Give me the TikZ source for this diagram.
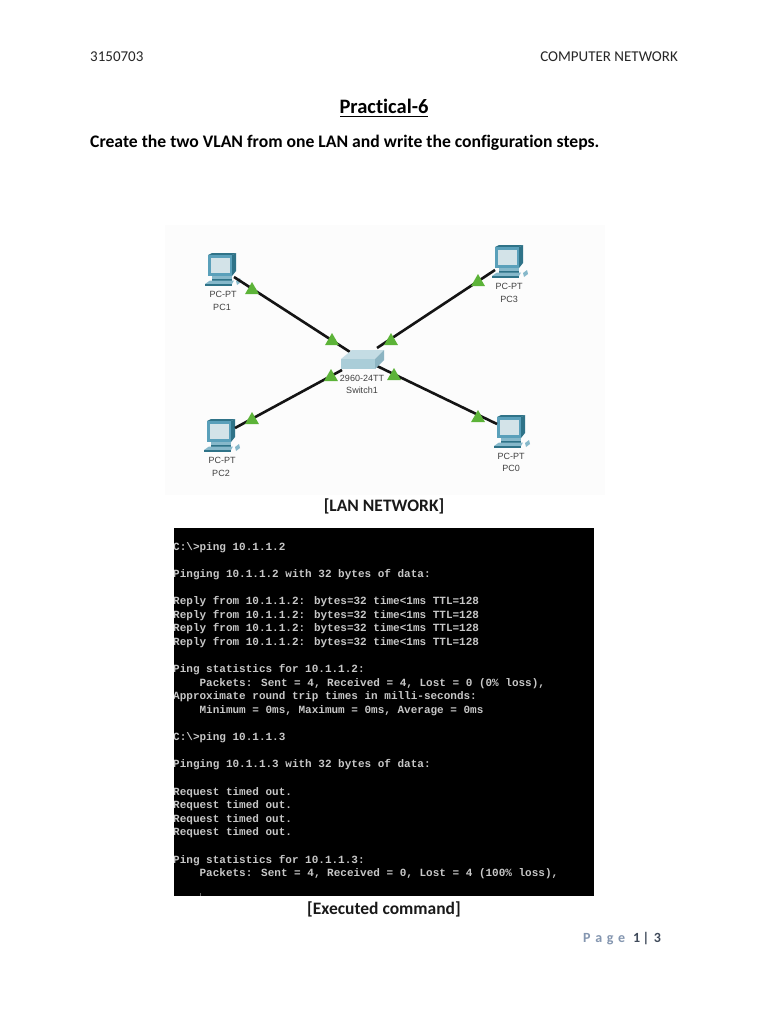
\documentclass[tikz,border=0pt]{standalone}
\usepackage{fontspec}
\setmainfont[Ligatures=NoCommon]{Carlito}
\newfontfamily\pkfont{Liberation Sans}
\newfontfamily\termfont{Liberation Mono}
\usetikzlibrary{shapes.geometric}
\definecolor{pcfront}{HTML}{5AA0BA}
\definecolor{pcside}{HTML}{2F7388}
\definecolor{pcscreen}{HTML}{D3E3E8}
\definecolor{pcbase}{HTML}{86B8CA}
\definecolor{linkgreen}{HTML}{5CB338}
\definecolor{pagegrey}{HTML}{8496B0}
\definecolor{pagedark}{HTML}{3F4A5A}
\definecolor{swtop}{HTML}{C4DCE4}
\definecolor{swfront}{HTML}{AACDD8}
\definecolor{swside}{HTML}{8CB4C2}
\tikzset{
  x=1pt,y=-1pt,
  hdr/.style={inner sep=0pt,font=\fontsize{15}{15}\selectfont,text=black!85},
  capt/.style={inner sep=0pt,font=\bfseries\fontsize{17.5}{17.5}\selectfont,text=black!90},
  pklabel/.style={inner sep=0pt,font=\pkfont\fontsize{9}{9}\selectfont,text=black!75},
  term/.style={inner sep=0pt,anchor=base west,font=\termfont\bfseries\fontsize{11}{11}\selectfont,text=black!22},
  wire/.style={line width=2.6pt,draw=black!92},
  linkup/.style={regular polygon,regular polygon sides=3,fill=linkgreen,inner sep=0pt,minimum size=16pt},
  pc/.pic={
    \fill[pcside] (24,0) -- (28,-2) -- (28,16) -- (24,21) -- cycle;
    \fill[pcside] (0,0) -- (4,-2) -- (28,-2) -- (24,0) -- cycle;
    \fill[pcfront] (0,0) rectangle (24,21);
    \fill[pcscreen] (2.5,2.5) rectangle (22,18);
    \fill[pcbase] (4,21) rectangle (24,24);
    \fill[pcside] (4,24) rectangle (24,25.5);
    \fill[pcbase] (2,25.5) -- (26,25.5) -- (24,29) -- (-3,29) -- cycle;
    \fill[pcside] (-3,29) rectangle (24,30.5);
    \fill[pcbase] (28,26) -- (32,23) -- (33,27) -- (29,30) -- cycle;
  }
}
\begin{document}
\begin{tikzpicture}
\useasboundingbox (0,0) rectangle (768,1024);
\fill[white] (0,0) rectangle (768,1024);
\node[hdr,anchor=west] (code) at (90,57) {3150703};
\node[hdr,anchor=east] (subject) at (678,57) {COMPUTER NETWORK};
\node[inner sep=0pt,font=\bfseries\fontsize{20.5}{20.5}\selectfont] (title) at (384,106.5) {Practical-6};
\draw[line width=1.2pt] (340,116.5) -- (428,116.5);
\node[inner sep=0pt,anchor=west,font=\bfseries\fontsize{17.65}{17.65}\selectfont] (task) at (90,142.5) {Create the two VLAN from one LAN and write the configuration steps.};
% network picture
\fill[black!1] (165,225) rectangle (605,495);
\coordinate (pc1p) at (234,277);
\coordinate (pc3p) at (495,270);
\coordinate (pc2p) at (235,428);
\coordinate (pc0p) at (497,424);
\coordinate (sw1) at (350,352);
\coordinate (sw3) at (377,348);
\coordinate (sw2) at (342,370);
\coordinate (sw0) at (377,366);
\pic at (208,255) {pc};
\pic at (495,247) {pc};
\pic at (207,421) {pc};
\pic at (497,417) {pc};
\draw[wire] (pc1p) -- (sw1);
\draw[wire] (pc3p) -- (sw3);
\draw[wire] (pc2p) -- (sw2);
\draw[wire] (pc0p) -- (sw0);
\fill[swtop] (341,359) -- (352,350) -- (384,350) -- (375,359) -- cycle;
\fill[swfront] (341,359) rectangle (375,369);
\fill[swside] (375,359) -- (384,350) -- (384,360) -- (375,369) -- cycle;
\foreach \n/\p in {a/{252,290},b/{332,341},c/{391,341},d/{478,282},e/{331,377},f/{394,376},g/{252,420},h/{478,418}}{
  \node[linkup] (link\n) at (\p) {};
}
\node[pklabel] (pc1t) at (223,294) {PC-PT};
\node[pklabel] (pc1n) at (222,307) {PC1};
\node[pklabel] (pc3t) at (509,286) {PC-PT};
\node[pklabel] (pc3n) at (509,299) {PC3};
\node[pklabel] (pc2t) at (222,460) {PC-PT};
\node[pklabel] (pc2n) at (221,473) {PC2};
\node[pklabel] (pc0t) at (511,456) {PC-PT};
\node[pklabel] (pc0n) at (511,468) {PC0};
\node[pklabel] (swt) at (362,378) {2960-24TT};
\node[pklabel] (swn) at (362,390) {Switch1};
\node[capt] (lancap) at (384,506.5) {[LAN NETWORK]};
% terminal
\fill[black] (174,528) rectangle (594,896);
\begin{scope}
\clip (174,528) rectangle (594,896);
\foreach \n/\y/\t in {
 a/550.5/{C:\textbackslash>ping 10.1.1.2},
 b/577.5/{Pinging 10.1.1.2 with 32 bytes of data:},
 c/604.5/{Reply from 10.1.1.2: bytes=32 time<1ms TTL=128},
 d/618/{Reply from 10.1.1.2: bytes=32 time<1ms TTL=128},
 e/631.5/{Reply from 10.1.1.2: bytes=32 time<1ms TTL=128},
 f/645/{Reply from 10.1.1.2: bytes=32 time<1ms TTL=128},
 g/672.5/{Ping statistics for 10.1.1.2:},
 h/686/{\ \ \ \ Packets: Sent = 4, Received = 4, Lost = 0 (0\% loss),},
 i/699.5/{Approximate round trip times in milli-seconds:},
 j/713/{\ \ \ \ Minimum = 0ms, Maximum = 0ms, Average = 0ms},
 k/740.5/{C:\textbackslash>ping 10.1.1.3},
 l/767.5/{Pinging 10.1.1.3 with 32 bytes of data:},
 m/795/{Request timed out.},
 n/808.5/{Request timed out.},
 o/822/{Request timed out.},
 p/835.5/{Request timed out.},
 q/863/{Ping statistics for 10.1.1.3:},
 r/876.5/{\ \ \ \ Packets: Sent = 4, Received = 0, Lost = 4 (100\% loss),}}{
  \node[term] (line\n) at (173,\y) {\t};
}
\end{scope}
\fill[black!60] (199.5,892.5) rectangle (200.5,896);
\node[capt] (execcap) at (384,909.5) {[Executed command]};
% footer
\node[inner sep=0pt,anchor=west,text=pagegrey,font=\bfseries\fontsize{14}{14}\selectfont] (pageword) at (583,939) {P\,\,a\,\,g\,\,e};
\node[inner sep=0pt,anchor=west,text=pagedark,font=\bfseries\fontsize{14}{14}\selectfont] (pagenum) at (633,939) {1\,|\,\,3};
\end{tikzpicture}
\end{document}
